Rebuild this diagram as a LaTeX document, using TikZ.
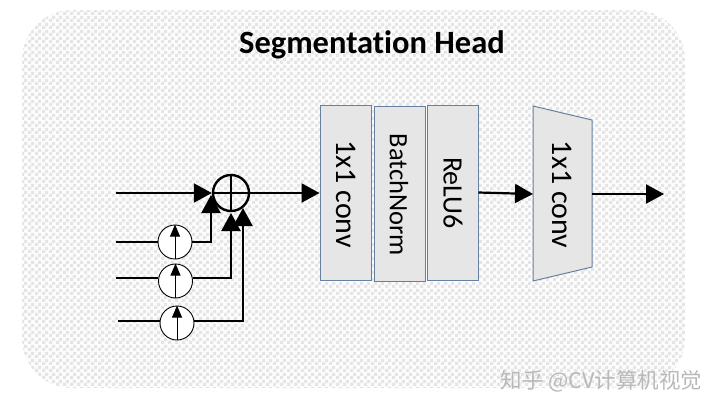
\documentclass[tikz,border=0pt]{standalone}
\usepackage{fontspec}
\setmainfont[Ligatures=NoCommon]{Carlito}
\newfontfamily\cjkfont{Noto Sans CJK SC}
\usetikzlibrary{arrows.meta,patterns}
\definecolor{boxline}{HTML}{6880A0}
\definecolor{boxfill}{HTML}{E6E6E6}
\pgfdeclarepatternformonly{bgcheck}{\pgfqpoint{0pt}{0pt}}{\pgfqpoint{7pt}{7pt}}{\pgfqpoint{7pt}{7pt}}{
    \pgfpathrectangle{\pgfqpoint{0pt}{0pt}}{\pgfqpoint{3.5pt}{3.5pt}}
    \pgfpathrectangle{\pgfqpoint{3.5pt}{3.5pt}}{\pgfqpoint{3.5pt}{3.5pt}}
    \pgfusepath{fill}
}
\tikzset{
    layerbox/.style={draw=boxline, fill=boxfill, line width=1pt, inner sep=0pt, minimum width=51pt, minimum height=175pt},
    layertext/.style={rotate=-90, font=\fontsize{30}{30}\selectfont},
    flow/.style={line width=2.2pt, -{Triangle[length=18pt,width=19pt]}},
    plainline/.style={line width=2.2pt},
    upcircle/.style={circle, draw, fill=white, line width=0.9pt, inner sep=0pt, minimum size=34pt},
    sumcircle/.style={circle, draw, line width=2.4pt, inner sep=0pt, minimum size=36pt},
    uparrow/.style={line width=1pt, -{Triangle[length=12pt,width=10pt]}}
}
\begin{document}
\begin{tikzpicture}[x=1pt,y=-1pt]
    \useasboundingbox (0,0) rectangle (722,413);

    % background
    \fill[gray!2, rounded corners=50pt] (22,10) rectangle (685,388);
    \fill[pattern=bgcheck, pattern color=gray!20, rounded corners=50pt] (22,10) rectangle (685,388);
    \node[font=\bfseries\fontsize{32.5}{32.5}\selectfont] (title) at (372,45) {Segmentation Head};

    % layers
    \node[layerbox] (conv) at (345.5,193) {};
    \node[layerbox] (norm) at (399.5,193.5) {};
    \node[layerbox] (relu) at (452.5,192.5) {};
    \node[layertext] (convtext) at (346.5,194) {1x1 conv};
    \node[layertext, font=\fontsize{26.5}{26.5}\selectfont] (normtext) at (399,195) {BatchNorm};
    \node[layertext, font=\fontsize{28}{28}\selectfont] (relutext) at (453,193) {ReLU6};

    % last conv
    \coordinate (lastleft) at (533,194);
    \coordinate (lastright) at (592,194);
    \draw[draw=boxline, fill=boxfill, line width=1pt] (533,106) -- (592,120) -- (592,267) -- (533,281) -- cycle;
    \node[layertext] (lasttext) at (562.5,194.5) {1x1 conv};

    % sum and upsample
    \node[sumcircle] (sum) at (231,193) {};
    \draw[line width=2.2pt] (sum.north) -- (sum.south);
    \draw[line width=2.2pt] (sum.west) -- (sum.east);
    \node[upcircle] (upa) at (175,242) {};
    \node[upcircle] (upb) at (175.5,281) {};
    \node[upcircle] (upc) at (177,323) {};
    \draw[uparrow] (upa.south) -- (upa.north);
    \draw[uparrow] (upb.south) -- (upb.north);
    \draw[uparrow] (upc.south) -- (upc.north);

    % inputs
    \coordinate (ina) at (116,193);
    \coordinate (inb) at (116,242);
    \coordinate (inc) at (116,278);
    \coordinate (ind) at (118,321);
    \coordinate (tipb) at (211,195);
    \coordinate (tipc) at (231,213);
    \coordinate (tipd) at (243,208);
    \coordinate (tipout) at (664,194);

    \draw[flow] (ina) -- (sum.west);
    \draw[plainline] (inb) -- (upa.west);
    \draw[plainline] (inc) -- (upb.west |- inc);
    \draw[plainline] (ind) -- (upc.west |- ind);
    \draw[flow] (upa.east) -| (tipb);
    \draw[flow] (upb.east |- inc) -| (tipc);
    \draw[flow] (upc.east |- ind) -| (tipd);

    \draw[flow] (sum.east) -- (conv.west);
    \draw[flow] (relu.east) -- (lastleft);
    \draw[flow] (lastright) -- (tipout);

    \node[text=gray!55, font=\cjkfont\fontsize{21.5}{21.5}\selectfont, anchor=east] (mark) at (706,381) {知乎 @CV计算机视觉};
\end{tikzpicture}
\end{document}
